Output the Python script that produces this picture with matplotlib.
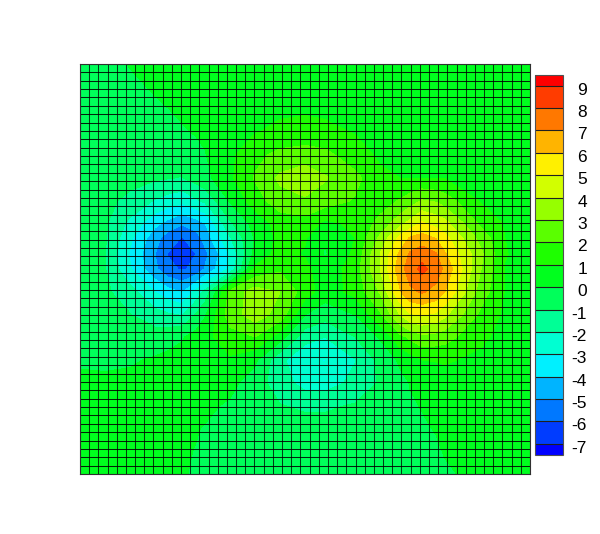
import numpy as np
import matplotlib
matplotlib.use("Agg")
import matplotlib.pyplot as plt
from matplotlib.colors import ListedColormap, BoundaryNorm
from matplotlib.transforms import ScaledTranslation

plt.rcParams['font.family'] = ['Liberation Sans', 'DejaVu Sans']

# node positions of the value table, read in picture pixels
x_nodes = [80, 105, 130, 155, 168, 182, 196, 205, 230, 255, 280, 305, 325, 355, 380, 400, 410, 422, 436, 445, 480, 505, 530]
y_nodes = [64, 87, 110, 132, 155, 178, 201, 223, 238, 254, 269, 292, 315, 337, 360, 383, 406, 428, 451, 474]

# field values read row by row, top to bottom
row_064 = [-.5, -.35, .05, .25, .33, .4, .43, .45, .5, .5, .5, .5, .5, .5, .5, .5, .5, .5, .5, .5, .5, .5, .5]
row_087 = [-.5, -.45, -.2, .1, .2, .3, .36, .4, .5, .55, .6, .6, .6, .6, .55, .5, .5, .5, .5, .5, .5, .5, .5]
row_110 = [-.5, -.5, -.4, -.15, -.02, .12, .3, .4, .6, .75, .85, .9, .85, .75, .65, .6, .58, .55, .52, .5, .5, .5, .5]
row_132 = [-.5, -.5, -.5, -.35, -.22, -.08, .05, .15, .55, .95, 1.2, 1.3, 1.2, .95, .8, .7, .68, .65, .62, .6, .55, .5, .5]
row_155 = [-.5, -.5, -.55, -.6, -.55, -.45, -.2, -.05, .8, 1.7, 2.3, 2.5, 2.3, 1.4, .85, .75, .75, .75, .75, .75, .65, .55, .5]
row_178 = [-.5, -.55, -.7, -.85, -.95, -1.05, -.6, -.3, .8, 2.1, 3.2, 3.65, 3.1, 2.3, 1.2, 1.0, 1.0, 1.0, .97, .95, .8, .65, .55]
row_201 = [-.55, -.75, -1.25, -2.1, -2.45, -2.75, -2.2, -1.8, .1, 1.5, 2.6, 2.85, 2.5, 1.9, 1.5, 2.1, 2.5, 3.1, 2.9, 2.5, .95, .7, .55]
row_223 = [-.6, -.85, -2.25, -3.7, -4.3, -4.85, -4.4, -4.0, -1.15, .4, 1.4, 1.6, .8, 1.2, 2.3, 3.6, 4.3, 5.1, 4.6, 4.3, 1.8, .9, .6]
row_238 = [-.65, -.9, -2.8, -4.6, -5.55, -6.05, -5.5, -4.6, -2.1, .1, 1.3, 1.1, .1, 1.0, 3.2, 5.3, 6.1, 6.4, 5.95, 5.3, 2.7, 1.0, .65]
row_254 = [-.65, -.95, -3.1, -5.0, -6.05, -6.9, -6.0, -5.3, -2.9, .3, 1.35, .9, -.1, 1.2, 4.0, 6.2, 7.15, 7.6, 7.1, 6.1, 3.3, 1.05, .65]
row_269 = [-.65, -.95, -2.9, -4.8, -5.75, -6.1, -5.8, -4.9, -2.75, 1.2, 1.85, 1.3, .35, 1.5, 4.0, 6.6, 7.5, 8.3, 7.5, 6.8, 3.1, .95, .65]
row_292 = [-.55, -.8, -1.6, -3.0, -3.6, -4.05, -2.7, -1.7, 2.3, 3.5, 3.0, 1.5, .5, 1.3, 3.1, 5.9, 6.8, 7.1, 6.7, 6.0, 2.6, .95, .6]
row_315 = [-.5, -.6, -.95, -1.6, -1.85, -2.05, -.9, -.1, 2.5, 3.5, 2.6, 0, -.6, 0, 1.8, 4.0, 4.85, 5.05, 4.8, 4.2, 1.8, .8, .6]
row_337 = [-.3, -.35, -.45, -.5, -.3, -.1, .4, .7, 1.6, 2.0, .5, -1.6, -2.0, -1.0, .1, 1.7, 2.2, 2.75, 2.6, 2.4, 1.2, .7, .55]
row_360 = [-.1, -.15, -.1, .1, .2, .35, .5, .6, .85, .2, -1.75, -2.8, -3.05, -2.05, -.7, .15, .55, 1.0, 1.05, 1.1, .8, .6, .5]
row_383 = [.15, .15, .2, .3, .38, .45, .55, .6, .3, -.55, -1.5, -2.4, -2.5, -1.7, -.9, -.25, .03, .3, .45, .6, .65, .55, .5]
row_406 = [.2, .2, .25, .3, .33, .35, .27, .2, -.15, -.5, -.95, -1.15, -1.15, -.9, -.5, -.2, -.08, .03, .17, .3, .5, .5, .5]
row_428 = [.25, .25, .25, .25, .22, .2, .05, -.05, -.3, -.45, -.6, -.65, -.65, -.55, -.45, -.3, -.2, -.08, .04, .15, .35, .45, .45]
row_451 = [.25, .25, .25, .2, .15, .1, -.03, -.1, -.3, -.4, -.5, -.5, -.5, -.45, -.4, -.35, -.3, -.25, -.1, .05, .25, .35, .4]
row_474 = [.25, .25, .25, .2, .12, .05, -.07, -.15, -.3, -.35, -.4, -.4, -.4, -.4, -.4, -.4, -.37, -.35, -.22, -.1, .2, .3, .35]

rows = [row_064, row_087, row_110, row_132, row_155, row_178, row_201, row_223, row_238, row_254,
        row_269, row_292, row_315, row_337, row_360, row_383, row_406, row_428, row_451, row_474]

levels = [-7.5, -7, -6, -5, -4, -3, -2, -1, 0, 1, 2, 3, 4, 5, 6, 7, 8, 9, 9.5]
tick_values = [9, 8, 7, 6, 5, 4, 3, 2, 1, 0, -1, -2, -3, -4, -5, -6, -7]
band_colors = ['#0000ff', '#003cff', '#0078ff', '#00b4ff', '#00f0ff', '#00ffd2', '#00ff96', '#00ff5a', '#00ff1e',
               '#1eff00', '#5aff00', '#96ff00', '#d2ff00', '#fff000', '#ffb400', '#ff7800', '#ff3c00', '#ff0000']

W, H = 600, 534
N_CELLS = 49

fig = plt.figure(figsize=(W / 100, H / 100), dpi=100)
ax = fig.add_axes([80 / W, (H - 474) / H, 450 / W, 410 / H])

cmap = ListedColormap(band_colors)
norm = BoundaryNorm(levels, cmap.N)
cf = ax.contourf(x_nodes, y_nodes, np.array(rows), levels=levels, cmap=cmap, norm=norm)

ax.set_xlim(80, 530)
ax.set_ylim(474, 64)

# computational mesh on top of the flood
ax.vlines(np.linspace(80, 530, N_CELLS + 1), 64, 474, color='black', lw=0.75, alpha=0.75)
ax.hlines(np.linspace(64, 474, N_CELLS + 1), 80, 530, color='black', lw=0.75, alpha=0.85)
ax.set_xticks([])
ax.set_yticks([])
for s in ax.spines.values():
    s.set_linewidth(0.8)
    s.set_color('#303030')

cax = fig.add_axes([535 / W, (H - 455) / H, 28 / W, 380.5 / H])
cb = fig.colorbar(cf, cax=cax, spacing='proportional')
cb.set_ticks(tick_values)
cb.set_ticklabels([str(t) for t in tick_values])
cb.minorticks_off()
cb.outline.set_linewidth(0.8)
cb.outline.set_edgecolor('#505050')
cax.hlines(tick_values, 0, 1, transform=cax.get_yaxis_transform(), color='#202020', lw=0.8)
cax.tick_params(length=0, pad=17.3, labelsize=12.5)
shift = ScaledTranslation(0, -3 / 100, fig.dpi_scale_trans)
for lab in cax.get_yticklabels():
    lab.set_ha('right')
    lab.set_transform(lab.get_transform() + shift)

fig.savefig('out.png', dpi=100)
